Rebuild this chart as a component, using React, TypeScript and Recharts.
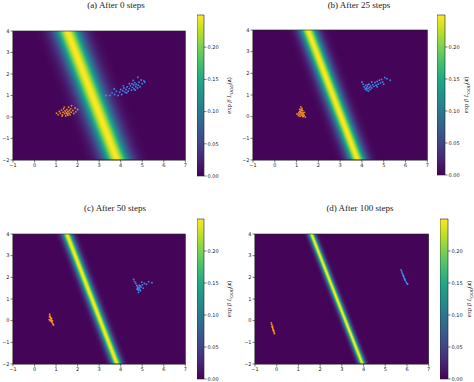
import React from 'react';
import { ScatterChart, Scatter, XAxis, YAxis, ReferenceArea, BarChart, Bar, Label } from 'recharts';

// tick labels
const xTicks = [-1, 0, 1, 2, 3, 4, 5, 6, 7];
const yTicks = [-2, -1, 0, 1, 2, 3, 4];
const cbTicks = [0, 0.05, 0.1, 0.15, 0.2];
const titles = ['(a) After 0 steps', '(b) After 25 steps', '(c) After 50 steps', '(d) After 100 steps'];

// decision band: x where it crosses y=4 and y=-2, and its sharpness
const bandTop = [1.52, 1.52, 1.5, 1.6];
const bandBottom = [3.83, 3.8, 3.83, 3.95];
const bandSharpness = [3.8, 5.8, 10, 15];

// (a) after 0 steps
const orangeA = [
  [1.02, 0.18], [1.1, 0.1], [1.15, 0.26], [1.2, 0.18], [1.25, 0.32], [1.3, 0.1], [1.32, 0.22], [1.35, 0.38],
  [1.4, 0.16], [1.42, 0.28], [1.45, 0.05], [1.48, 0.2], [1.5, 0.34], [1.52, 0.14], [1.55, 0.25], [1.58, 0.45],
  [1.6, 0.18], [1.62, 0.3], [1.65, 0.1], [1.68, 0.38], [1.7, 0.22], [1.72, 0.52], [1.78, 0.3], [1.82, 0.16],
  [1.88, 0.42], [1.92, 0.24], [2.0, 0.35], [1.38, 0.46], [1.28, 0.05], [1.55, 0.08],
];
const blueA = [
  [3.32, 1.0], [3.5, 1.0], [3.6, 1.12], [3.72, 1.05], [3.8, 1.2], [3.88, 1.0], [3.95, 1.15], [4.0, 1.28],
  [4.05, 1.05], [4.1, 1.22], [4.15, 1.35], [4.2, 1.15], [4.25, 1.28], [4.3, 1.4], [4.35, 1.2], [4.4, 1.32],
  [4.45, 1.45], [4.5, 1.25], [4.52, 1.55], [4.55, 1.38], [4.6, 1.5], [4.62, 1.3], [4.65, 1.6], [4.7, 1.42],
  [4.72, 1.52], [4.78, 1.35], [4.8, 1.85], [4.82, 1.48], [4.85, 1.62], [4.9, 1.4], [4.95, 1.72], [5.0, 1.55],
  [5.08, 1.68], [5.12, 1.62], [4.4, 1.55], [4.28, 1.12], [3.7, 1.3], [4.58, 1.7], [4.12, 1.45], [4.68, 1.25],
];

// (b) after 25 steps
const orangeB = [
  [1.02, 0.12], [1.08, 0.05], [1.1, 0.18], [1.12, 0.1], [1.15, 0.25], [1.16, 0.02], [1.18, 0.15], [1.2, 0.32],
  [1.2, 0.45], [1.22, 0.08], [1.23, 0.2], [1.25, 0.38], [1.26, 0.12], [1.28, 0.28], [1.3, 0.0], [1.3, 0.18],
  [1.32, 0.1], [1.35, 0.05], [1.36, 0.2], [1.4, -0.02], [1.18, 0.22], [1.24, 0.3], [1.14, 0.35], [1.27, 0.03],
];
const blueB = [
  [4.0, 1.6], [4.05, 1.5], [4.1, 1.38], [4.15, 1.28], [4.18, 1.45], [4.2, 1.32], [4.22, 1.22], [4.25, 1.4],
  [4.28, 1.3], [4.3, 1.18], [4.32, 1.5], [4.35, 1.35], [4.38, 1.25], [4.4, 1.42], [4.45, 1.32], [4.5, 1.48],
  [4.55, 1.4], [4.6, 1.58], [4.65, 1.45], [4.7, 1.62], [4.75, 1.5], [4.8, 1.68], [4.85, 1.55], [4.9, 1.72],
  [4.95, 1.6], [5.0, 1.5], [5.05, 1.8], [5.15, 1.75], [5.3, 1.68], [4.7, 1.38], [4.45, 1.6], [4.28, 1.48],
];

// (c) after 50 steps
const orangeC = [
  [0.7, 0.3], [0.72, 0.22], [0.74, 0.15], [0.76, 0.08], [0.78, 0.02], [0.8, -0.05], [0.82, -0.1], [0.85, -0.15],
  [0.88, -0.2], [0.68, 0.05], [0.72, 0.0], [0.75, 0.12], [0.79, 0.1], [0.83, 0.0], [0.77, -0.02], [0.7, 0.18],
];
const blueC = [
  [4.6, 1.9], [4.65, 1.8], [4.7, 1.72], [4.75, 1.62], [4.78, 1.55], [4.8, 1.48], [4.82, 1.4], [4.83, 1.3],
  [4.85, 1.52], [4.88, 1.45], [4.9, 1.6], [4.92, 1.38], [4.95, 1.55], [5.0, 1.65], [5.05, 1.5], [5.1, 1.72],
  [5.2, 1.68], [5.3, 1.8], [5.45, 1.75], [4.86, 1.62], [4.76, 1.45], [4.98, 1.78],
];

// (d) after 100 steps
const orangeD = [
  [-0.25, -0.1], [-0.23, -0.18], [-0.21, -0.25], [-0.2, -0.3], [-0.18, -0.36], [-0.16, -0.42], [-0.14, -0.48],
  [-0.12, -0.54], [-0.1, -0.6], [-0.19, -0.28], [-0.15, -0.45],
];
const blueD = [
  [5.73, 2.34], [5.76, 2.25], [5.79, 2.18], [5.82, 2.1], [5.85, 2.02], [5.88, 1.95], [5.92, 1.86], [5.96, 1.78],
  [6.0, 1.72], [6.03, 1.68], [5.84, 2.06], [5.9, 1.9],
];

const orangeSets = [orangeA, orangeB, orangeC, orangeD];
const blueSets = [blueA, blueB, blueC, blueD];

// pixel layout of each subplot
const layout = [
  { pl: 12.7, pt: 31, pw: 172.3, ph: 129, cl: 197, ct: 15, cw: 7, ch: 161, tx: 116, ty: 8, lx: 230 },
  { pl: 253, pt: 30, pw: 174.3, ph: 130, cl: 437, ct: 15, cw: 8, ch: 160, tx: 359, ty: 8, lx: 467 },
  { pl: 12.7, pt: 234, pw: 172.3, ph: 130, cl: 197, ct: 219, cw: 7, ch: 160, tx: 115, ty: 211, lx: 230 },
  { pl: 255, pt: 234, pw: 173.7, ph: 130, cl: 440, ct: 219, cw: 8, ch: 160, tx: 360, ty: 211, lx: 470 },
];

const VIRIDIS = ['#440154', '#482475', '#414487', '#355f8d', '#2a788e', '#21918c', '#22a884', '#44bf70', '#7ad151', '#bddf26', '#fde725'];
const ORANGE = '#ff9d1f';
const BLUE = '#3d9bff';
const INK = '#222';
const tickFont = { fontSize: 5, fill: INK, fontFamily: 'DejaVu Sans' };

function viridis(t: number) {
  const c = Math.max(0, Math.min(1, t)) * 10;
  const i = Math.min(9, Math.floor(c));
  const f = c - i;
  const a = VIRIDIS[i], b = VIRIDIS[i + 1];
  const ch = (h: string, o: number) => parseInt(h.slice(o, o + 2), 16);
  const mix = [1, 3, 5].map((o) => Math.round(ch(a, o) + (ch(b, o) - ch(a, o)) * f));
  return `rgb(${mix.join(',')})`;
}

const fmtTick = (v: number) => (v < 0 ? '\u2212' + Math.abs(v) : String(v));

function BandShape(props: any) {
  const { x, y, width, height, top, bottom, k, id } = props;
  const sx = width / 8;
  const p0x = x + (top + 1) * sx, p0y = y;
  const p1x = x + (bottom + 1) * sx, p1y = y + height;
  const dx = p1x - p0x, dy = p1y - p0y;
  const len = Math.hypot(dx, dy);
  const nx = -dy / len, ny = dx / len;
  const mx = (p0x + p1x) / 2, my = (p0y + p1y) / 2;
  const T = (6 / k) * sx * Math.abs(nx);
  const N = 120;
  const stops = [];
  for (let i = 0; i <= N; i++) {
    const t = (2 * i / N - 1) * T;
    const dh = t / (Math.abs(nx) * sx);
    const s = 1 / (1 + Math.exp(-k * dh));
    stops.push(<stop key={i} offset={i / N} stopColor={viridis((s * (1 - s)) / 0.25)} />);
  }
  return (
    <g>
      <defs>
        <linearGradient id={id} gradientUnits="userSpaceOnUse" x1={mx - nx * T} y1={my - ny * T} x2={mx + nx * T} y2={my + ny * T}>
          {stops}
        </linearGradient>
      </defs>
      <rect x={x} y={y} width={width} height={height} fill={`url(#${id})`} />
      <rect x={x} y={y} width={width} height={height} fill="none" stroke={INK} strokeWidth={0.6} />
    </g>
  );
}

function Dot(color: string) {
  return (p: any) => <circle cx={p.cx} cy={p.cy} r={0.95} fill={color} fillOpacity={0.85} />;
}

function CbarLabel({ viewBox, dx }: any) {
  const cx = viewBox.x + dx;
  const cy = viewBox.y + viewBox.height / 2;
  return (
    <text x={cx} y={cy} transform={`rotate(-90 ${cx} ${cy})`} textAnchor="middle" dominantBaseline="middle"
      fontFamily="Liberation Serif" fontSize={6.5} fill={INK}>
      <tspan>exp </tspan>
      <tspan fontStyle="italic">β L</tspan>
      <tspan fontStyle="italic" fontSize={4.5} dy={1.5}>OOD</tspan>
      <tspan dy={-1.5}>(</tspan>
      <tspan fontWeight="bold">z</tspan>
      <tspan>)</tspan>
    </text>
  );
}

function Panel({ i }: { i: number }) {
  const L = layout[i];
  const orange = orangeSets[i].map(([x, y]) => ({ x, y }));
  const blue = blueSets[i].map(([x, y]) => ({ x, y }));
  const labelGap = L.lx - L.cl - L.cw;
  const cbar = [{ name: 'cb', value: 0.25 }];
  return (
    <>
      <div style={{ position: 'absolute', left: L.tx, top: L.ty - 7.5, transform: 'translateX(-50%)', whiteSpace: 'nowrap',
        fontFamily: 'Liberation Serif', fontSize: 9, lineHeight: '9px', color: INK }}>
        {titles[i]}
      </div>
      <div style={{ position: 'absolute', left: L.pl - 30, top: L.pt - 5 }}>
        <ScatterChart width={30 + L.pw + 5} height={5 + L.ph + 20} margin={{ top: 5, right: 5, bottom: 0, left: 0 }}>
          <XAxis type="number" dataKey="x" domain={[-1, 7]} ticks={xTicks} tickFormatter={fmtTick} height={20}
            tick={tickFont} tickSize={2.5} tickMargin={1} axisLine={{ stroke: INK, strokeWidth: 0.6 }}
            tickLine={{ stroke: INK, strokeWidth: 0.6 }} interval={0} allowDataOverflow />
          <YAxis type="number" dataKey="y" domain={[-2, 4]} ticks={yTicks} tickFormatter={fmtTick} width={30}
            tick={tickFont} tickSize={2.5} tickMargin={1} axisLine={{ stroke: INK, strokeWidth: 0.6 }}
            tickLine={{ stroke: INK, strokeWidth: 0.6 }} interval={0} allowDataOverflow />
          <ReferenceArea x1={-1} x2={7} y1={-2} y2={4}
            shape={(p: any) => <BandShape {...p} top={bandTop[i]} bottom={bandBottom[i]} k={bandSharpness[i]} id={`band${i}`} />} />
          <Scatter data={orange} isAnimationActive={false} shape={Dot(ORANGE)} />
          <Scatter data={blue} isAnimationActive={false} shape={Dot(BLUE)} />
        </ScatterChart>
      </div>
      <div style={{ position: 'absolute', left: L.cl, top: L.ct - 6 }}>
        <BarChart width={L.cw + labelGap + 6} height={L.ch + 12} data={cbar} margin={{ top: 6, right: 0, bottom: 6, left: 0 }}
          barCategoryGap={0} barGap={0}>
          <defs>
            <linearGradient id={`cb${i}`} x1="0" y1="1" x2="0" y2="0">
              {VIRIDIS.map((c, j) => <stop key={j} offset={j / 10} stopColor={c} />)}
            </linearGradient>
          </defs>
          <XAxis dataKey="name" hide />
          <YAxis orientation="right" type="number" domain={[0, 0.25]} ticks={cbTicks} width={labelGap + 6} interval={0}
            tickFormatter={(v: number) => v.toFixed(2)} tick={tickFont} tickSize={2.5} tickMargin={1}
            axisLine={false} tickLine={{ stroke: INK, strokeWidth: 0.6 }}>
            <Label content={(p: any) => <CbarLabel viewBox={p.viewBox} dx={labelGap} />} />
          </YAxis>
          <Bar dataKey="value" fill={`url(#cb${i})`} stroke={INK} strokeWidth={0.6} isAnimationActive={false} />
        </BarChart>
      </div>
    </>
  );
}

export default function App() {
  return (
    <div style={{ position: 'absolute', left: 0, top: 0, width: 474, height: 382, background: '#fff', overflow: 'hidden' }}>
      {[0, 1, 2, 3].map((i) => <Panel key={i} i={i} />)}
    </div>
  );
}
